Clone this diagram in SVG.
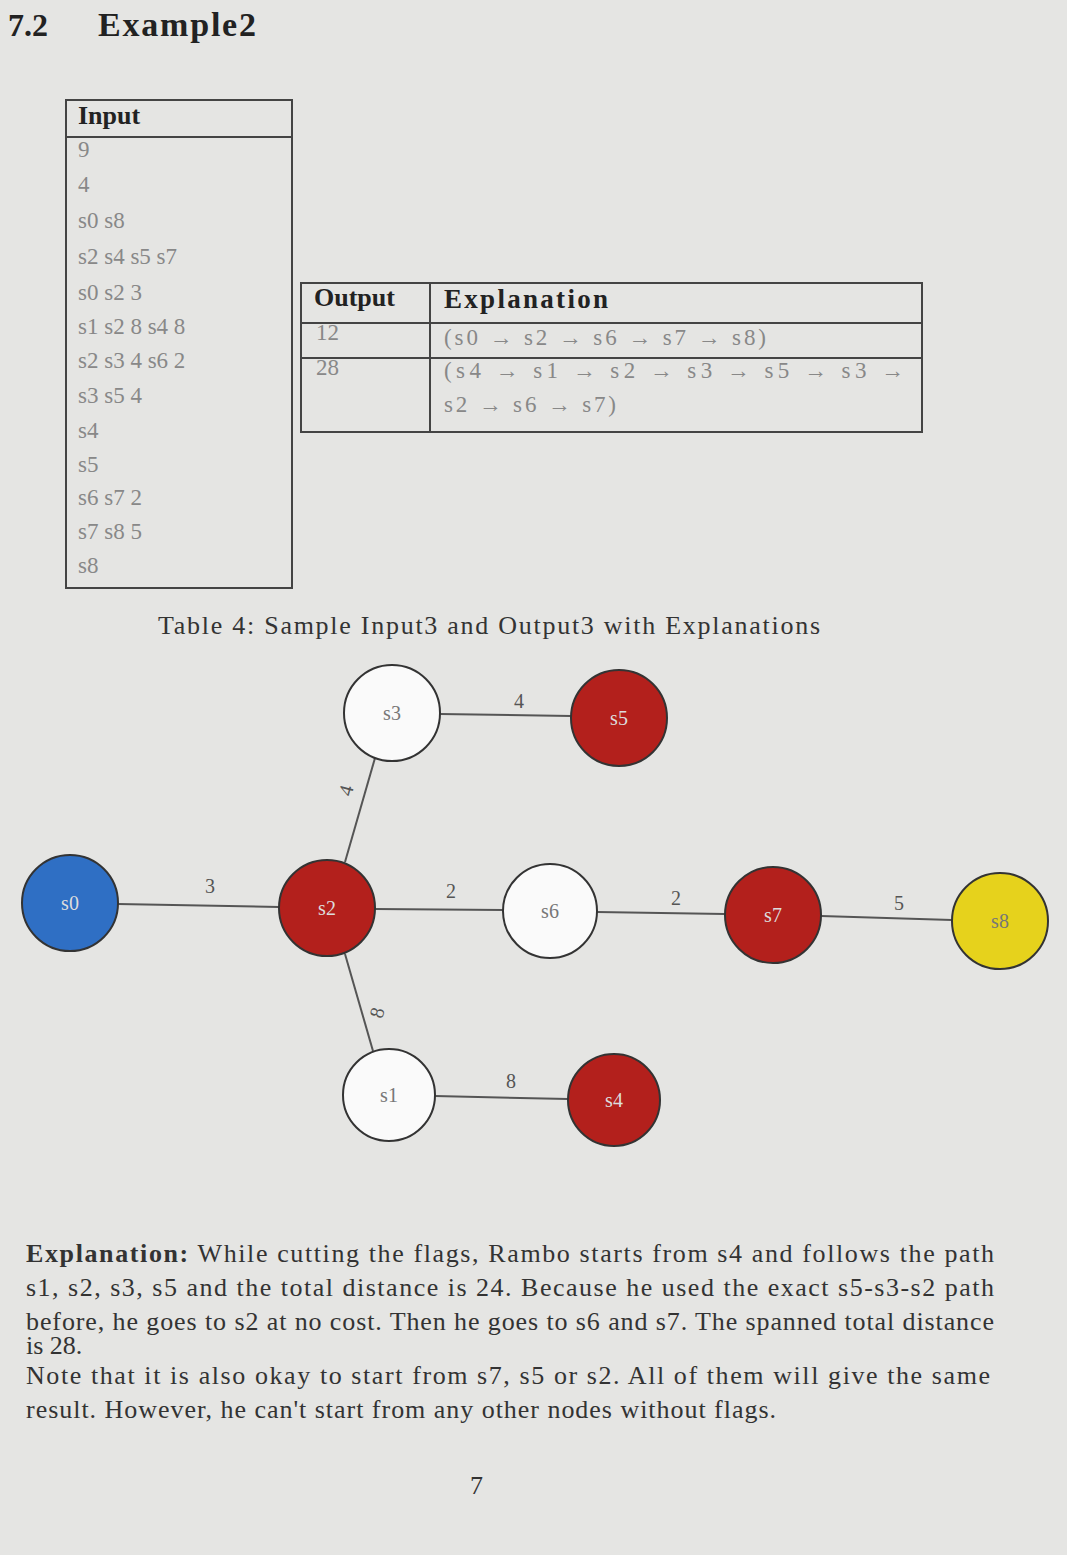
<svg xmlns="http://www.w3.org/2000/svg" width="1067" height="1555" viewBox="0 0 1067 1555" font-family="'Liberation Serif', 'DejaVu Serif', serif">
<style>
text{font-family:"Liberation Serif","DejaVu Serif",serif;fill:#333}
.t{font-size:26px}
.b{font-weight:bold;fill:#222}
.g{fill:#888;font-size:23px}
.n{stroke:#333;stroke-width:2}
.e{stroke:#555;stroke-width:2;fill:none}
.l{font-size:20px;fill:#555}
.nl{font-size:20px;text-anchor:middle;fill:#ddd}
.nw{font-size:20px;text-anchor:middle;fill:#777}
.tb{fill:none;stroke:#444;stroke-width:2}
</style>
<rect width="1067" height="1555" fill="#e5e5e3"/>
<text x="8" y="36" font-size="32" class="b">7.2</text>
<text x="98" y="36" font-size="34" class="b" textLength="158">Example2</text>
<g id="input-table">
<rect x="66" y="100" width="226" height="488" class="tb"/>
<line x1="66" y1="137" x2="292" y2="137" class="tb"/>
<text x="78" y="124" font-size="26" class="b">Input</text>
<text x="78" y="157" class="g">9</text>
<text x="78" y="192" class="g">4</text>
<text x="78" y="228" class="g">s0 s8</text>
<text x="78" y="264" class="g">s2 s4 s5 s7</text>
<text x="78" y="300" class="g">s0 s2 3</text>
<text x="78" y="334" class="g">s1 s2 8 s4 8</text>
<text x="78" y="368" class="g">s2 s3 4 s6 2</text>
<text x="78" y="403" class="g">s3 s5 4</text>
<text x="78" y="438" class="g">s4</text>
<text x="78" y="472" class="g">s5</text>
<text x="78" y="505" class="g">s6 s7 2</text>
<text x="78" y="539" class="g">s7 s8 5</text>
<text x="78" y="573" class="g">s8</text>
</g>
<g id="output-table">
<rect x="301" y="283" width="621" height="149" class="tb"/>
<line x1="301" y1="323" x2="922" y2="323" class="tb"/>
<line x1="301" y1="358" x2="922" y2="358" class="tb"/>
<line x1="430" y1="283" x2="430" y2="432" class="tb"/>
<text x="314" y="306" font-size="26" class="b">Output</text>
<text x="444" y="308" font-size="27" class="b" textLength="164">Explanation</text>
<text x="444" y="345" class="g" textLength="322">(s0 → s2 → s6 → s7 → s8)</text>
<text x="316" y="340" class="g">12</text>
<text x="316" y="375" class="g">28</text>
<text x="444" y="378" class="g" textLength="460">(s4 → s1 → s2 → s3 → s5 → s3 →</text>
<text x="444" y="412" class="g" textLength="172">s2 → s6 → s7)</text>
</g>
<text x="158" y="634" class="t" fill="#444" textLength="662">Table 4: Sample Input3 and Output3 with Explanations</text>
<g id="connectors">
<line x1="440" y1="714" x2="571" y2="716" class="e"/>
<line x1="375" y1="758" x2="345" y2="862" class="e"/>
<line x1="118" y1="904" x2="279" y2="907" class="e"/>
<line x1="375" y1="909" x2="503" y2="910" class="e"/>
<line x1="597" y1="912" x2="725" y2="914" class="e"/>
<line x1="821" y1="916" x2="952" y2="920" class="e"/>
<line x1="345" y1="954" x2="373" y2="1051" class="e"/>
<line x1="435" y1="1096" x2="568" y2="1099" class="e"/>
<text x="514" y="708" class="l">4</text>
<text x="342" y="795" class="l" transform="rotate(-75 348 790)">4</text>
<text x="205" y="893" class="l">3</text>
<text x="446" y="898" class="l">2</text>
<text x="671" y="905" class="l">2</text>
<text x="894" y="910" class="l">5</text>
<text x="372" y="1018" class="l" transform="rotate(-75 378 1012)">8</text>
<text x="506" y="1088" class="l">8</text>
</g>
<g id="s3"><circle cx="392" cy="713" r="48" fill="#fafafa" class="n"/><text x="392" y="720" class="nw">s3</text></g>
<g id="s5"><circle cx="619" cy="718" r="48" fill="#b3201c" class="n"/><text x="619" y="725" class="nl">s5</text></g>
<g id="s0"><circle cx="70" cy="903" r="48" fill="#2f6fc4" class="n"/><text x="70" y="910" class="nl">s0</text></g>
<g id="s2"><circle cx="327" cy="908" r="48" fill="#b3201c" class="n"/><text x="327" y="915" class="nl">s2</text></g>
<g id="s6"><circle cx="550" cy="911" r="47" fill="#fafafa" class="n"/><text x="550" y="918" class="nw">s6</text></g>
<g id="s7"><circle cx="773" cy="915" r="48" fill="#b3201c" class="n"/><text x="773" y="922" class="nl">s7</text></g>
<g id="s8"><circle cx="1000" cy="921" r="48" fill="#e6d21c" class="n"/><text x="1000" y="928" class="nw">s8</text></g>
<g id="s1"><circle cx="389" cy="1095" r="46" fill="#fafafa" class="n"/><text x="389" y="1102" class="nw">s1</text></g>
<g id="s4"><circle cx="614" cy="1100" r="46" fill="#b3201c" class="n"/><text x="614" y="1107" class="nl">s4</text></g>
<text x="26" y="1262" class="t" textLength="968"><tspan font-weight="bold">Explanation:</tspan> While cutting the flags, Rambo starts from s4 and follows the path</text>
<text x="26" y="1296" class="t" textLength="968">s1, s2, s3, s5 and the total distance is 24. Because he used the exact s5-s3-s2 path</text>
<text x="26" y="1330" class="t" textLength="968">before, he goes to s2 at no cost. Then he goes to s6 and s7. The spanned total distance</text>
<text x="26" y="1354" class="t">is 28.</text>
<text x="26" y="1384" class="t" textLength="964">Note that it is also okay to start from s7, s5 or s2. All of them will give the same</text>
<text x="26" y="1418" class="t" textLength="750">result. However, he can't start from any other nodes without flags.</text>
<text x="470" y="1494" class="t" fill="#666">7</text>
</svg>
